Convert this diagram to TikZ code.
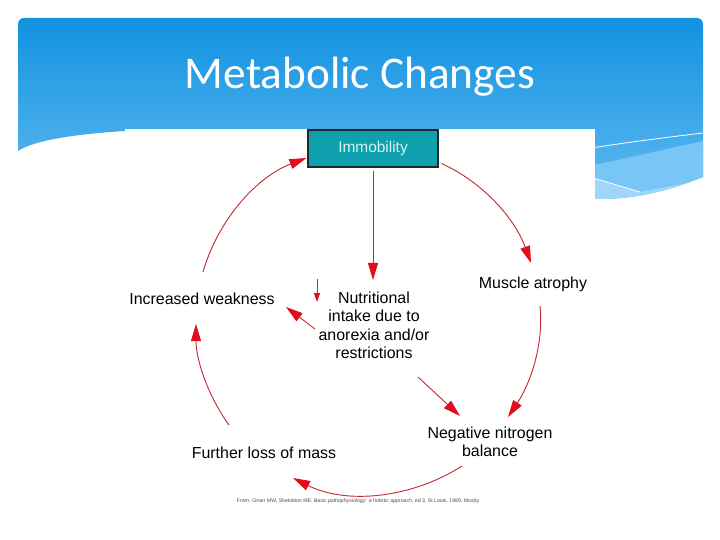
\documentclass[tikz,border=0pt]{standalone}
\usepackage{fontspec}
\setmainfont{Liberation Sans}
\newfontfamily\titlefont{Carlito}
\usetikzlibrary{arrows.meta,calc}

\definecolor{slidetop}{RGB}{18,146,224}
\definecolor{slidebot}{RGB}{96,186,240}
\definecolor{wavelight}{RGB}{120,198,245}
\definecolor{wavepale}{RGB}{160,214,249}
\definecolor{immfill}{RGB}{14,160,172}
\definecolor{immtext}{RGB}{220,242,242}
\definecolor{cycleline}{RGB}{195,40,52}
\definecolor{cyclehead}{RGB}{226,12,28}

\def \headbottom {(703,177) .. controls (660,194) and (630,199) .. (595,199) -- (125,131) .. controls (60,135) and (30,143) .. (18,151)}

\tikzset{
  label/.style={font=\fontsize{16}{18.5}\selectfont, inner sep=0pt, align=center},
  cyc/.style={draw=cycleline, line width=0.9bp, -{Triangle[length=17bp,width=10bp,color=cyclehead]}},
}

\begin{document}
\begin{tikzpicture}[x=1bp, y=-1bp]
\useasboundingbox (0,0) rectangle (720,540);
\fill[white] (0,0) rectangle (720,540);

% slide header
\begin{scope}
\clip (18,24) arc (180:270:6) -- (697,18) arc (270:360:6) -- \headbottom -- cycle;
\shade[top color=slidetop, bottom color=slidebot] (18,18) rectangle (703,200);
\fill[wavelight] (560,172) .. controls (620,160) and (670,148) .. (703,141) -- (703,210) -- (560,210) -- cycle;
\fill[wavepale] (560,168) -- (640,192) -- (703,180) -- (703,210) -- (560,210) -- cycle;
\draw[white, line width=0.8bp] (560,153) .. controls (620,143) and (670,137) .. (703,133);
\draw[white, line width=0.8bp] (560,168) -- (640,192);
\end{scope}
\node[text=white, font=\titlefont\fontsize{45.5}{50}\selectfont] (title) at (360,77) {Metabolic Changes};

% picture area
\fill[white] (125,129) rectangle (595,200);

\node[draw=black!85, line width=1.1bp, fill=immfill, text=immtext, minimum width=130bp, minimum height=37bp, font=\fontsize{15.5}{18}\selectfont] (imm) at (373,148.5) {Immobility};
\node[label] (atrophy) at (533,284) {Muscle atrophy};
\node[label] (weak) at (202,299) {Increased weakness};
\node[label] (nutri) at (374,325.5) {Nutritional\\intake due to\\anorexia and/or\\restrictions};
\node[label] (nitro) at (490,442) {Negative nitrogen\\balance};
\node[label] (loss) at (264,453) {Further loss of mass};
\node[font=\fontsize{5.2}{6}\selectfont, text=black!70] (source) at (358,501) {From: Groer MW, Shekleton ME: \textit{Basic pathophysiology: a holistic approach}, ed 3, St Louis, 1989, Mosby};

% cycle
\draw[cyc] ($(imm.south)+(0,3)$) -- ($(nutri)+(-1,-45.5)$);
\draw[cyc] ($(imm.south east)+(3,-4)$) .. controls +(42,19) and +(-16,-44) .. ($(atrophy)+(-2,-21)$);
\draw[cyc] ($(atrophy)+(7,22)$) .. controls +(4,39) and +(22,-33) .. ($(nitro)+(18,-25)$);
\draw[cyc] ($(nitro)+(-28,24)$) .. controls +(-50,32) and +(54,27) .. ($(loss)+(29,25)$);
\draw[cyc] ($(loss)+(-35,-28)$) .. controls +(-21,-29) and +(0,36) .. ($(weak)+(-6,25)$);
\draw[cyc] ($(weak)+(1,-27)$) .. controls +(15,-52) and +(-50,19) .. ($(imm.west)+(-1,9.5)$);
\draw[cyc] ($(nutri)+(44,51.5)$) -- ($(nitro)+(-30,-26)$);
\draw[cyc] ($(nutri)+(-59,3.5)$) -- ($(weak)+(84,8)$);
\draw[cyc, -{Triangle[length=9bp,width=6bp,color=cyclehead]}] ($(nutri)+(-57,-46.5)$) -- ($(nutri)+(-57,-23.5)$);
\end{tikzpicture}
\end{document}
